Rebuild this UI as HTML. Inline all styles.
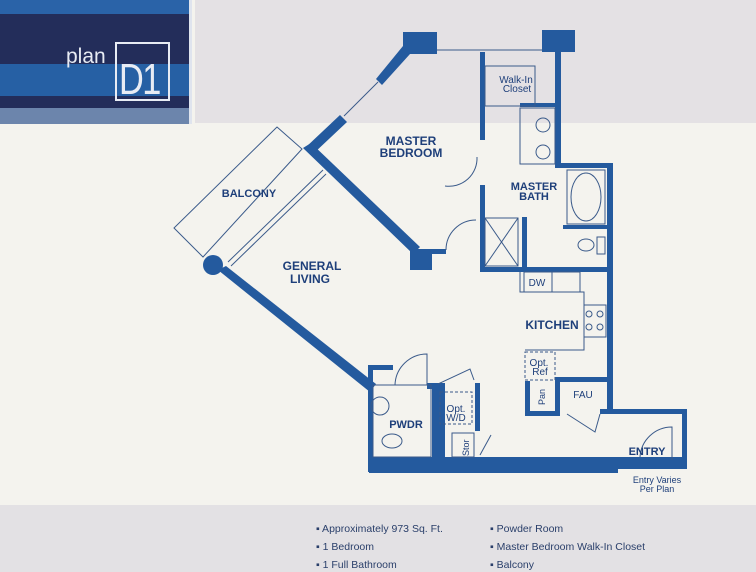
<!DOCTYPE html>
<html><head><meta charset="utf-8"><style>
html,body{margin:0;padding:0;background:#f4f3ee}
svg{display:block}
text{font-family:"Liberation Sans",sans-serif;fill:#1e3f7a}
.b{font-weight:bold;font-size:12px}
.s{font-size:10px}
.l{font-size:10.5px;fill:#2a3f6a}
</style></head><body>
<svg width="756" height="572" viewBox="0 0 756 572">
<rect width="756" height="572" fill="#f4f3ee"/>
<rect x="195" y="0" width="561" height="123" fill="#e4e1e4"/>
<rect x="0" y="505" width="756" height="67" fill="#e3e1e4"/>
<rect x="0" y="0" width="192" height="124" fill="#245595"/>
<rect x="0" y="0" width="192" height="14" fill="#2a63a8"/>
<rect x="0" y="14" width="192" height="50" fill="#232d5a"/>
<rect x="0" y="64" width="192" height="32" fill="#2660a4"/>
<rect x="0" y="96" width="192" height="12" fill="#232d5a"/>
<rect x="0" y="108" width="192" height="16" fill="#6c85ac"/>
<rect x="189" y="0" width="3" height="124" fill="#dfe4ee"/>
<text x="66" y="63" style="font-size:21px;fill:#e8ecf4">plan</text>
<rect x="116" y="43" width="53" height="57" fill="none" stroke="#e8ecf4" stroke-width="2"/>
<text transform="translate(119,94) scale(0.78,1)" style="font-size:44px;fill:#e8ecf4;letter-spacing:-2px">D1</text>
<g fill="#245a9e" stroke="none">
<rect x="403" y="32" width="34" height="22"/>
<rect x="542" y="30" width="33" height="22"/>
<polygon points="403,46 410,54 382,85 376,79"/>
<polygon points="340,115 347,122 313,154 305,148"/>
<polygon points="303,148 311,143 420,247 413,254"/>
<rect x="410" y="249" width="22" height="21"/>
<rect x="432" y="249" width="14" height="5"/>
<circle cx="213" cy="265" r="10"/>
<polygon points="218,270 226,266 376,384 370,392"/>
<rect x="368" y="384" width="5" height="88"/>
<rect x="368" y="367" width="5" height="20"/>
<rect x="368" y="365" width="25" height="5"/>
<rect x="427" y="383" width="18" height="6"/>
<rect x="432" y="383" width="13" height="74"/>
<rect x="475" y="383" width="5" height="48"/>
<rect x="369" y="457" width="249" height="16"/>
<rect x="615" y="457" width="70" height="12"/>
<rect x="682" y="410" width="5" height="59"/>
<rect x="600" y="409" width="87" height="5"/>
<rect x="607" y="165" width="6" height="248"/>
<rect x="555" y="163" width="58" height="5"/>
<rect x="555" y="52" width="6" height="116"/>
<rect x="480" y="52" width="5" height="88"/>
<rect x="480" y="185" width="5" height="87"/>
<rect x="480" y="267" width="133" height="5"/>
<rect x="520" y="103" width="37" height="4"/>
<rect x="522" y="217" width="5" height="52"/>
<rect x="563" y="225" width="48" height="4"/>
<rect x="555" y="377" width="55" height="5"/>
<rect x="525" y="381" width="5" height="34"/>
<rect x="525" y="411" width="35" height="5"/>
<rect x="555" y="377" width="5" height="37"/>
</g>
<g fill="none" stroke="#3a5a8a" stroke-width="1">
<polygon points="277,127 302,149 203,257 174,228"/>
<line x1="323" y1="170" x2="228" y2="262"/>
<line x1="326" y1="174" x2="231" y2="266"/>
<line x1="437" y1="50" x2="542" y2="50"/>
<line x1="378" y1="82" x2="344" y2="116"/>
<rect x="485" y="66" width="50" height="40"/>
<rect x="520" y="108" width="35" height="56"/>
<circle cx="543" cy="125" r="7"/><circle cx="543" cy="152" r="7"/>
<rect x="567" y="170" width="38" height="54"/>
<ellipse cx="586" cy="197" rx="15" ry="24"/>
<rect x="485" y="218" width="33" height="48"/>
<line x1="485" y1="218" x2="518" y2="266"/><line x1="518" y1="218" x2="485" y2="266"/>
<ellipse cx="586" cy="245" rx="8" ry="6"/>
<rect x="597" y="237" width="8" height="17"/>
<path d="M446,250 A30,30 0 0 1 476,220"/>
<path d="M477,157 A28,28 0 0 1 445,186"/>
<rect x="524" y="272" width="28" height="20"/>
<rect x="552" y="272" width="28" height="20"/>
<rect x="584" y="305" width="22" height="32"/>
<circle cx="589" cy="314" r="3"/><circle cx="600" cy="314" r="3"/>
<circle cx="589" cy="327" r="3"/><circle cx="600" cy="327" r="3"/>
<polyline points="520,272 520,292 584,292 584,350 525,350"/>
<rect x="525" y="352" width="30" height="28" stroke-dasharray="3,2"/>
<rect x="440" y="392" width="32" height="32" stroke-dasharray="3,2"/>
<rect x="452" y="433" width="22" height="24"/>
<rect x="373" y="385" width="58" height="72"/>
<circle cx="380" cy="406" r="9"/>
<ellipse cx="392" cy="441" rx="10" ry="7"/>
<path d="M395,385 A32,32 0 0 1 427,354 L427,385"/>
<path d="M438,384 L470,369 L474,380"/>
<path d="M480,455 L491,435"/>
<path d="M567,414 L595,432 L600,414"/>
<path d="M640,457 A32,32 0 0 1 672,427 L672,460"/>
</g>
<text x="411" y="145" class="b" text-anchor="middle">MASTER</text>
<text x="411" y="157" class="b" text-anchor="middle">BEDROOM</text>
<text x="249" y="197" class="b" text-anchor="middle" style="font-size:11px">BALCONY</text>
<text x="312" y="270" class="b" text-anchor="middle">GENERAL</text>
<text x="310" y="283" class="b" text-anchor="middle">LIVING</text>
<text x="534" y="190" class="b" text-anchor="middle" style="font-size:11px">MASTER</text>
<text x="534" y="200" class="b" text-anchor="middle" style="font-size:11px">BATH</text>
<text x="516" y="83" class="s" text-anchor="middle">Walk-In</text>
<text x="517" y="92" class="s" text-anchor="middle">Closet</text>
<text x="537" y="286" class="s" text-anchor="middle">DW</text>
<text x="552" y="329" class="b" text-anchor="middle">KITCHEN</text>
<text x="539" y="366" class="s" text-anchor="middle">Opt.</text>
<text x="540" y="375" class="s" text-anchor="middle">Ref</text>
<text x="583" y="398" class="s" text-anchor="middle">FAU</text>
<text x="456" y="412" class="s" text-anchor="middle">Opt.</text>
<text x="456" y="421" class="s" text-anchor="middle">W/D</text>
<text x="406" y="428" class="b" text-anchor="middle" style="font-size:11px">PWDR</text>
<text x="647" y="455" class="b" text-anchor="middle" style="font-size:11px">ENTRY</text>
<text x="657" y="483" class="s" text-anchor="middle" style="font-size:9px">Entry Varies</text>
<text x="657" y="492" class="s" text-anchor="middle" style="font-size:9px">Per Plan</text>
<text transform="translate(545,405) rotate(-90)" class="s" style="font-size:9px">Pan</text>
<text transform="translate(469,456) rotate(-90)" class="s" style="font-size:9px">Stor</text>
<text x="316" y="532" class="l">▪ Approximately 973 Sq. Ft.</text>
<text x="316" y="550" class="l">▪ 1 Bedroom</text>
<text x="316" y="568" class="l">▪ 1 Full Bathroom</text>
<text x="490" y="532" class="l">▪ Powder Room</text>
<text x="490" y="550" class="l">▪ Master Bedroom Walk-In Closet</text>
<text x="490" y="568" class="l">▪ Balcony</text>
</svg>
</body></html>
